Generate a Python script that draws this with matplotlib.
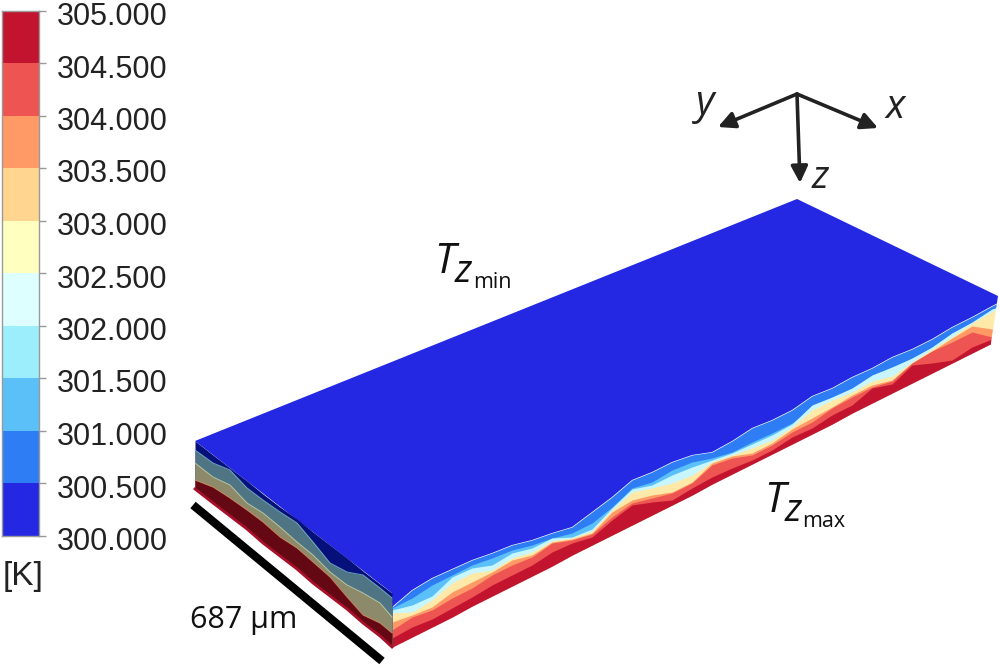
import numpy as np
import matplotlib
matplotlib.use("Agg")
import matplotlib.pyplot as plt
from matplotlib.transforms import ScaledTranslation
from matplotlib.patches import FancyArrowPatch

# ---- colour scale -----
levels = [300.0, 300.5, 301.0, 301.5, 302.0, 302.5, 303.0, 303.5, 304.0, 304.5, 305.0]
level_colors = ["#2428E2", "#2F7DF4", "#5CC0F8", "#9CEEFD", "#DDFFFF",
                "#FFFFC0", "#FFD590", "#FF9A66", "#EE5552", "#C2142E"]
unit_label = "[K]"

# ---- block outline, read in picture pixels -----
top_x = [392, 195, 797, 998]
top_y = [593, 441, 199, 296]
trim_x = [998, 1000, 1000, 991, 991]
trim_y = [296, 296, 350, 350, 343]

# ---- front-face band boundaries -----
st_x = [392, 412, 432, 452, 472, 492, 512, 532, 552, 572, 592,
        612, 632, 652, 672, 692, 712, 732, 752, 772, 792,
        812, 832, 852, 872, 892, 912, 932, 952, 972, 992, 998]
b_bottom = [647, 637, 627, 617, 606, 596, 586, 576, 566, 555, 545,
            535, 525, 515, 505, 495, 484, 474, 464, 454, 444,
            434, 424, 413, 403, 393, 383, 373, 363, 353, 343, 340]
b_blue = [607, 590, 578, 569, 560, 553, 545, 540, 533, 527, 512,
          497, 480, 472, 462, 455, 452, 441, 428, 420, 410,
          396, 388, 377, 368, 357, 349, 339, 327, 317, 306, 303]
b_sky = [608, 598, 585, 575, 565, 558, 550, 545, 538, 533, 523,
         507, 488, 482, 470, 462, 458, 452, 442, 433, 423,
         408, 398, 390, 376, 367, 362, 347, 333, 323, 310, 307]
b_pale = [610, 605, 596, 577, 568, 565, 553, 548, 538, 537, 529,
          508, 489, 485, 475, 467, 460, 453, 444, 435, 424,
          405, 397, 388, 375, 367, 358, 347, 333, 322, 309, 307]
b_cream = [613, 612, 600, 583, 573, 570, 558, 552, 541, 538, 531,
           510, 492, 488, 483, 475, 462, 455, 448, 440, 427,
           410, 400, 392, 381, 376, 362, 349, 337, 323, 312, 308]
b_orange = [622, 615, 607, 592, 582, 572, 560, 555, 542, 539, 533,
            512, 500, 495, 492, 482, 463, 456, 453, 443, 429,
            418, 407, 395, 385, 380, 363, 351, 338, 326, 329, 330]
b_redor = [630, 617, 610, 598, 588, 575, 565, 557, 543, 540, 534,
           517, 503, 498, 493, 483, 465, 458, 455, 445, 432,
           422, 408, 397, 387, 381, 363, 351, 342, 332, 337, 338]
b_red = [638, 627, 619, 608, 597, 585, 575, 565, 552, 543, 537,
         520, 505, 502, 500, 488, 477, 468, 460, 450, 437,
         428, 415, 405, 388, 384, 365, 363, 360, 347, 339, 339]

# ---- side-face boundaries -----
side_x = [195, 213, 230, 247, 263, 280, 297, 313, 330, 347, 363, 380, 392]
side_top = [441, 455, 468, 481, 494, 507, 519, 532, 545, 558, 571, 584, 593]
side_navy = [450, 463, 470, 488, 500, 512, 523, 542, 563, 572, 575, 588, 598]
side_teal = [463, 477, 485, 503, 513, 527, 542, 555, 572, 585, 593, 603, 617]
side_olive = [480, 487, 498, 510, 522, 537, 548, 562, 577, 597, 615, 623, 633]
side_bottom = [489, 503, 516, 529, 543, 556, 569, 583, 596, 609, 623, 636, 647]

# ---- annotations -----
length_label = "687 µm"
ruler_x = [193, 382]
ruler_y = [505, 661]
axis_names = ["y", "x", "z"]
axis_origin = (797, 94)
axis_tips = [(718, 127), (878, 128), (800, 183)]

fig = plt.figure(figsize=(10, 6.68), dpi=100, facecolor="white")
W, H = 1000, 668

# colour bar on its own scaled axes
cax = fig.add_axes([2 / W, 1 - 535.5 / H, 37 / W, 525 / H])
for lo, hi, c in zip(levels[:-1], levels[1:], level_colors):
    cax.bar(0, hi - lo, bottom=lo, width=1, color=c, align="center")
cax.set_xlim(-0.5, 0.5)
cax.set_ylim(levels[0], levels[-1])
cax.set_xticks([])
cax.yaxis.tick_right()
cax.set_yticks(levels)
cax.set_yticklabels([f"{v:.3f}" for v in levels], family="Liberation Sans",
                    fontsize=22, color="#222222")
cax.tick_params(axis="y", length=5, width=1, color="#999999", pad=8)
shift = ScaledTranslation(0, -3 / 100, fig.dpi_scale_trans)
for lab in cax.get_yticklabels():
    lab.set_transform(lab.get_transform() + shift)
for s in cax.spines.values():
    s.set_color("#999999")
    s.set_linewidth(1)

# full-figure pixel axes for the block
ax = fig.add_axes([0, 0, 1, 1], zorder=-1)
ax.set_xlim(0, W)
ax.set_ylim(H, 0)
ax.axis("off")

# top face, closed along the wavy front boundary
ax.fill(top_x + st_x[::-1], top_y + b_blue[::-1], color=level_colors[0], lw=0)

# front face: each band painted from its upper boundary down to the bottom edge
front_bands = [(b_blue, level_colors[1]), (b_sky, level_colors[2]),
               (b_pale, "#C8F6FF"), (b_cream, "#FFE9A8"),
               (b_orange, "#FF9A66"), (b_redor, level_colors[8]),
               (b_red, level_colors[9])]
for upper, c in front_bands:
    ax.fill_between(st_x, upper, b_bottom, color=c, lw=0)
ax.fill(trim_x, trim_y, color="white", lw=0)

# dark left face
ax.fill_between(side_x, side_top, side_bottom, color="#06107A", lw=0)
ax.fill_between(side_x, side_navy, side_bottom, color="#4F7585", lw=0)
ax.fill_between(side_x, side_teal, side_bottom, color="#8C8A6A", lw=0)
ax.fill_between(side_x, side_olive, side_bottom, color="#640813", lw=0)
ax.plot(side_x, side_bottom, color="#A8102A", lw=2)
ax.plot(side_x, side_navy, color="#7FC0D0", lw=0.7, alpha=.8)
ax.plot(side_x, side_teal, color="#C9D8A8", lw=0.7, alpha=.8)
ax.plot(side_x, side_olive, color="#D98A60", lw=0.7, alpha=.8)

ax.plot(ruler_x, ruler_y, color="black", lw=6, solid_capstyle="butt")
ax.text(190, 620, length_label, family="Open Sans", fontsize=22, color="#111111", va="center")

for tip, name in zip(axis_tips, axis_names):
    ax.add_patch(FancyArrowPatch(axis_origin, tip, arrowstyle="-|>", mutation_scale=25,
                                 lw=2.6, color="#222222", shrinkA=0, shrinkB=0))
ax.text(705, 104, "y", family="Open Sans", style="italic", fontsize=29, color="#222222", ha="center", va="center")
ax.text(895, 108, "x", family="Open Sans", style="italic", fontsize=29, color="#222222", ha="center", va="center")
ax.text(820, 178, "z", family="Open Sans", style="italic", fontsize=28, color="#222222", ha="center", va="center")

ax.text(434, 273, "T", family="Open Sans", style="italic", fontsize=30, color="#111111", va="baseline")
ax.text(455, 282, "z", family="Open Sans", style="italic", fontsize=28, color="#111111", va="baseline")
ax.text(473, 288, "min", family="Open Sans", fontsize=15.5, color="#111111", va="baseline")
ax.text(764, 512, "T", family="Open Sans", style="italic", fontsize=30, color="#111111", va="baseline")
ax.text(785, 521, "z", family="Open Sans", style="italic", fontsize=28, color="#111111", va="baseline")
ax.text(802, 527, "max", family="Open Sans", fontsize=15.5, color="#111111", va="baseline")

ax.text(23, 577, unit_label, family="Liberation Sans", fontsize=24, color="#222222", ha="center", va="center")

fig.savefig("out.png", dpi=100)
